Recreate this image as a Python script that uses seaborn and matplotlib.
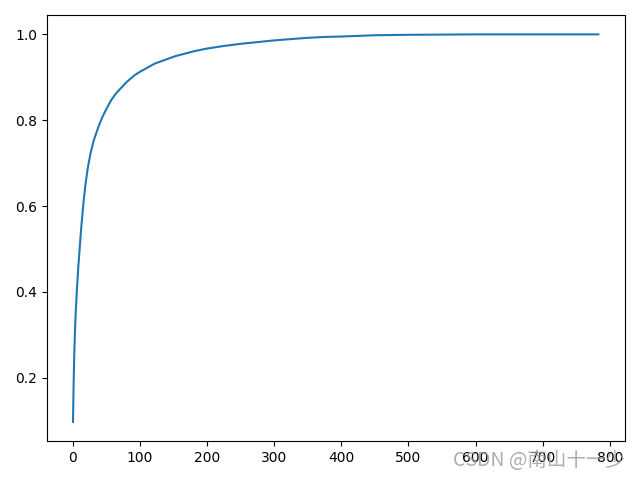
import matplotlib
matplotlib.use("Agg")
import matplotlib.pyplot as plt
import seaborn as sns
import numpy as np

# number of components vs cumulative explained variance
n_components = [0, 1, 2, 3, 4, 6, 8, 12, 16, 19, 22, 26, 31, 38, 44, 50,
                57, 65, 80, 92, 100, 122, 152, 181, 200, 225, 250, 275,
                300, 325, 350, 375, 400, 450, 500, 600, 700, 783]
cum_variance = [0.097, 0.19, 0.26, 0.31, 0.35, 0.41, 0.46, 0.544, 0.614,
                0.655, 0.688, 0.722, 0.753, 0.785, 0.808, 0.827, 0.847,
                0.864, 0.889, 0.905, 0.913, 0.932, 0.949, 0.961, 0.967,
                0.973, 0.978, 0.982, 0.986, 0.989, 0.992, 0.994, 0.995,
                0.998, 0.999, 1.0, 1.0, 1.0]

fig, ax = plt.subplots(figsize=(6.4, 4.8), dpi=100)
sns.lineplot(x=np.array(n_components), y=np.array(cum_variance), ax=ax, color="#1f77b4")
plt.tight_layout()

fig.text(0.708, 0.04, "CSDN @南山十一少", fontsize=14, color="#999999", alpha=0.8,
         va="center", family=["Noto Sans CJK SC", "DejaVu Sans"])

plt.savefig("out.png")
